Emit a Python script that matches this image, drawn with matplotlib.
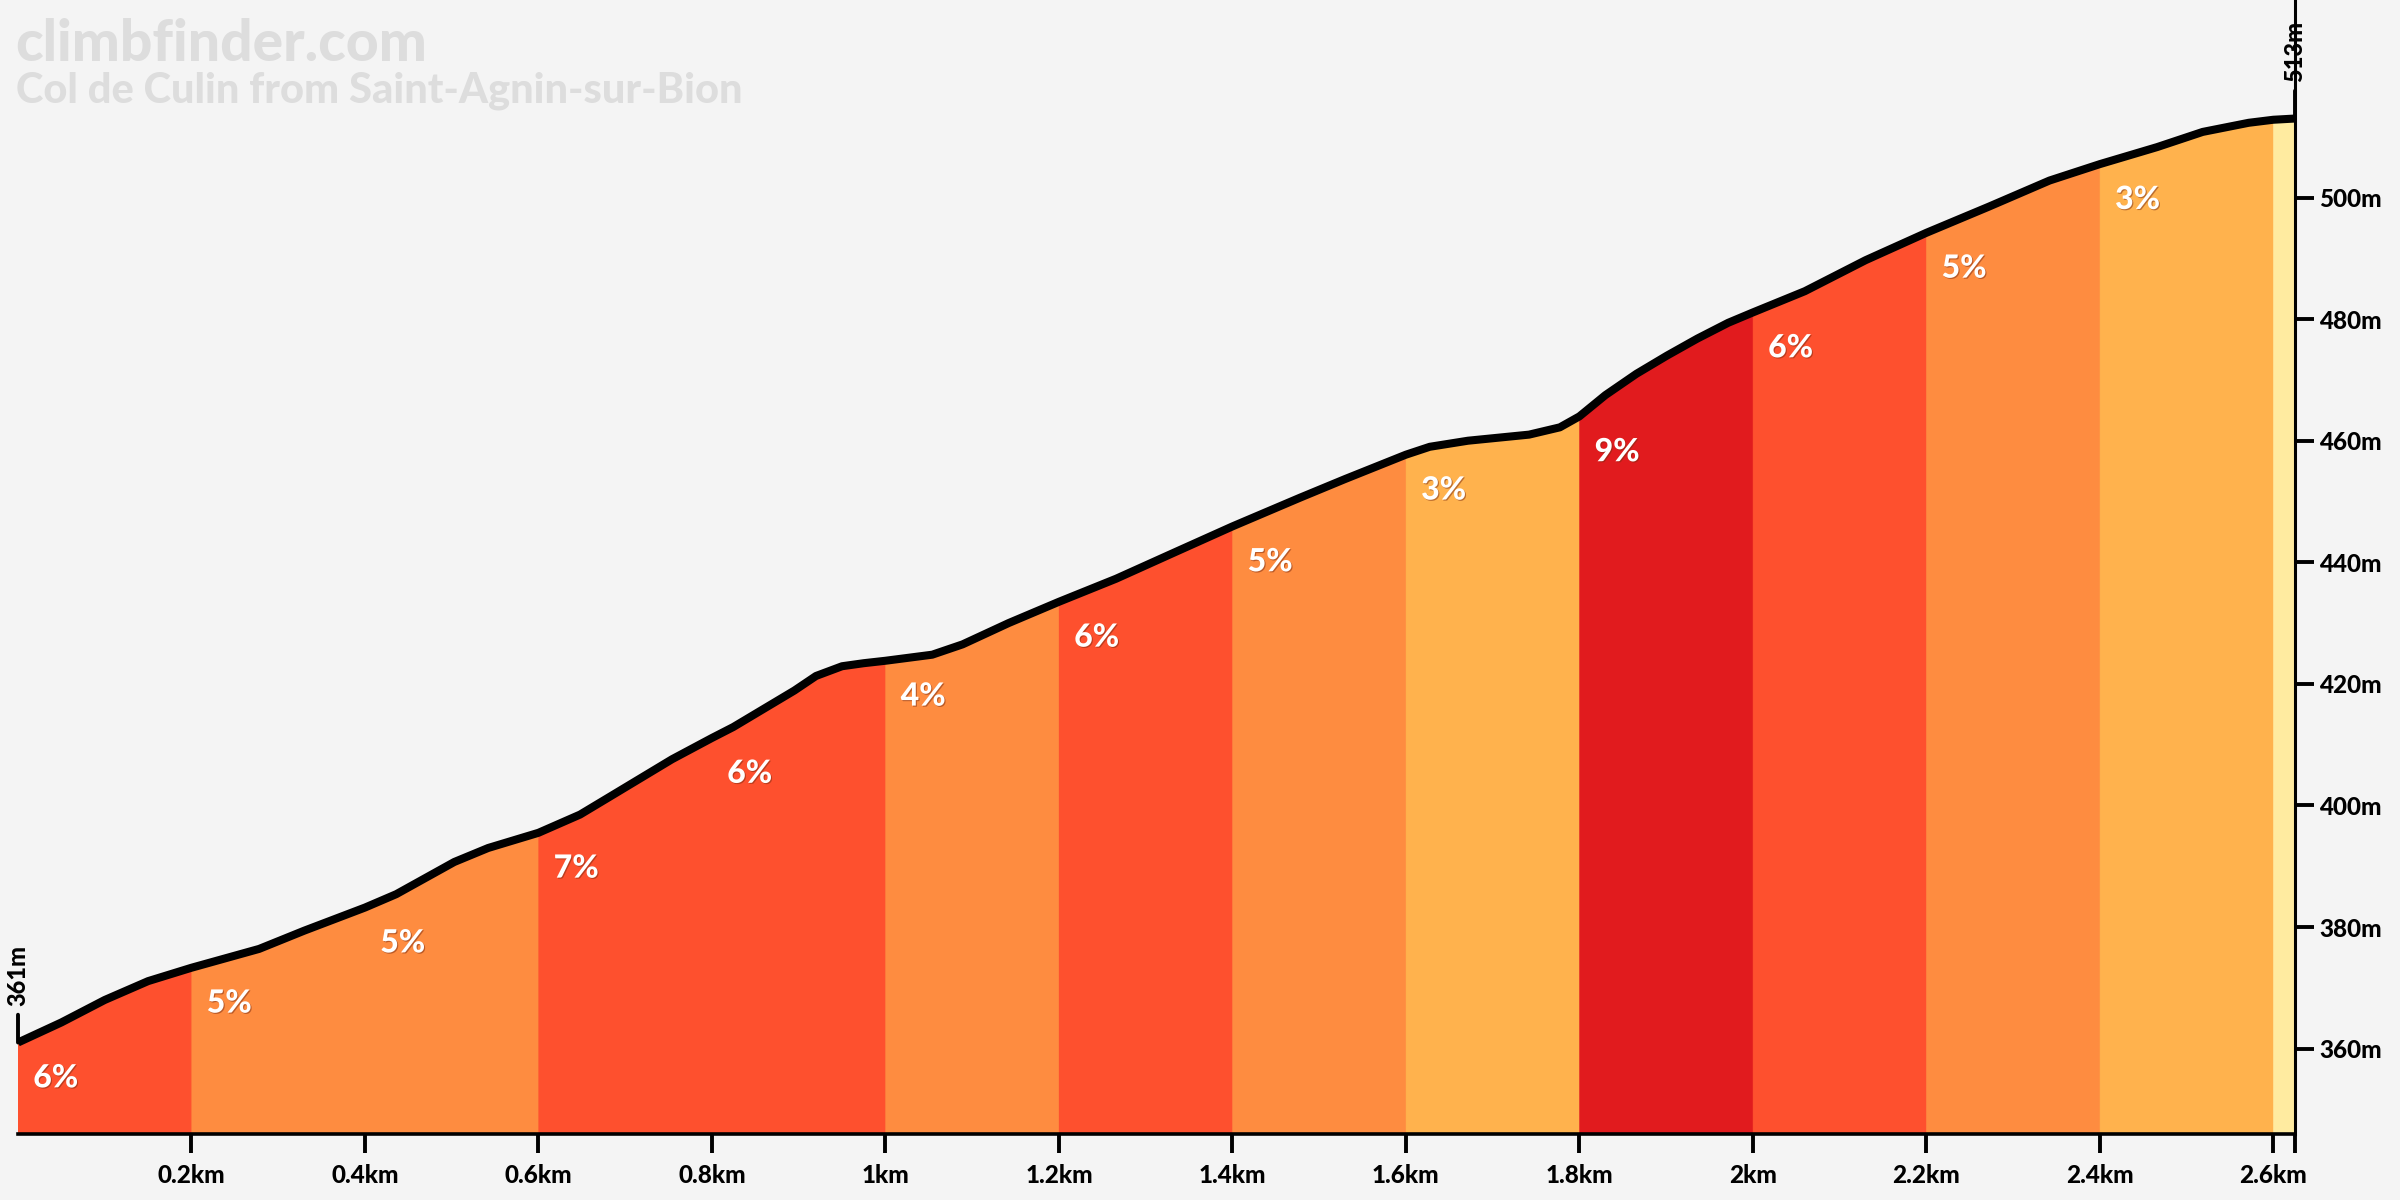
import matplotlib
matplotlib.use("Agg")
import matplotlib.pyplot as plt
import matplotlib.patheffects as pe
import numpy as np

plt.rcParams['font.family'] = ['Lato', 'DejaVu Sans']

# profile (km, m)
distance = [0.0, 0.05, 0.10, 0.15, 0.2, 0.278, 0.33, 0.4, 0.436, 0.503, 0.542,
            0.6, 0.648, 0.683, 0.754, 0.8, 0.8246, 0.895, 0.92, 0.95, 0.975,
            1.0, 1.054, 1.089, 1.142, 1.2, 1.266, 1.336, 1.4, 1.4775, 1.53,
            1.6, 1.6275, 1.6716, 1.742, 1.7775, 1.8, 1.83, 1.8657, 1.901,
            1.936, 1.9716, 2.0, 2.06, 2.13, 2.2, 2.272, 2.342, 2.4, 2.466,
            2.5186, 2.5716, 2.6, 2.625]
elevation = [361.0, 364.3, 368.0, 371.1, 373.3, 376.4, 379.4, 383.2, 385.4,
             390.7, 393.0, 395.5, 398.5, 401.5, 407.6, 411.1, 412.9, 418.9,
             421.3, 422.9, 423.4, 423.8, 424.8, 426.5, 430.0, 433.5, 437.3,
             441.8, 445.9, 450.6, 453.7, 457.7, 459.0, 460.0, 461.0, 462.2,
             464.0, 467.5, 471.0, 474.0, 476.8, 479.4, 481.1, 484.6, 489.7,
             494.2, 498.5, 502.8, 505.5, 508.3, 510.8, 512.3, 512.8, 513.0]

seg_edges = [0.0, 0.2, 0.4, 0.6, 0.8, 1.0, 1.2, 1.4, 1.6, 1.8, 2.0, 2.2, 2.4, 2.6, 2.625]
seg_grade = [6, 5, 5, 7, 6, 4, 6, 5, 3, 9, 6, 5, 3, 1]

x_ticks = [0.2, 0.4, 0.6, 0.8, 1.0, 1.2, 1.4, 1.6, 1.8, 2.0, 2.2, 2.4, 2.6]
x_labels = ['0.2km', '0.4km', '0.6km', '0.8km', '1km', '1.2km', '1.4km',
            '1.6km', '1.8km', '2km', '2.2km', '2.4km', '2.6km']
y_ticks = [360, 380, 400, 420, 440, 460, 480, 500]
y_labels = ['360m', '380m', '400m', '420m', '440m', '460m', '480m', '500m']

title = 'climbfinder.com'
subtitle = 'Col de Culin from Saint-Agnin-sur-Bion'


def grade_color(g):
    if g >= 8:
        return '#e11b1e'
    if g >= 6:
        return '#fe502e'
    if g >= 4:
        return '#fe8c40'
    if g >= 2:
        return '#ffb24d'
    return '#ffeba0'


bg = '#f4f4f4'
fig = plt.figure(figsize=(24, 12), dpi=100, facecolor=bg)
ax = fig.add_axes([0.0075, 0.055, 0.94875, 0.945])
ax.set_facecolor(bg)

d = np.array(distance)
e = np.array(elevation)
ymin = 345.95

for i, g in enumerate(seg_grade):
    a, b = seg_edges[i], seg_edges[i + 1]
    m = (d >= a - 1e-9) & (d <= b + 1e-9)
    c = grade_color(g)
    ax.fill_between(d[m], ymin, e[m], facecolor=c, edgecolor=c, lw=0.8)
    if g >= 2:
        ax.annotate(f'{g}%', xy=(a, e[m][0]), xytext=(11, -15),
                    textcoords='offset points', ha='left', va='top',
                    fontsize=23, fontweight='black', color='white',
                    path_effects=[pe.withSimplePatchShadow(offset=(0.8, -0.8),
                                                          shadow_rgbFace='#7a2a10',
                                                          alpha=0.5)])

ax.plot(d, e, color='black', lw=5.8, solid_capstyle='butt',
        solid_joinstyle='round', zorder=5)

# start / end markers
for xx, yy in [(d[0], e[0]), (d[-1], e[-1])]:
    ax.annotate('', xy=(xx, yy), xytext=(0, 20), textcoords='offset points',
                arrowprops=dict(arrowstyle='-', lw=2.8, color='black',
                                shrinkA=0, shrinkB=0))
    ax.annotate(f'{yy:.0f}m', xy=(xx, yy), xytext=(0, 26),
                textcoords='offset points', rotation=90, ha='center',
                va='bottom', fontsize=17, fontweight='black', color='black')

ax.set_xlim(0, 2.625)
ax.set_ylim(ymin, 532.5)

ax.set_xticks(x_ticks + [2.625])
ax.set_xticklabels(x_labels + [''])
ax.yaxis.tick_right()
ax.set_yticks(y_ticks)
ax.set_yticklabels(y_labels)

ax.tick_params(axis='x', direction='out', length=13.5, width=2.8, pad=8,
               labelsize=17.5, colors='black')
ax.tick_params(axis='y', direction='out', length=13.5, width=2.8, pad=4,
               labelsize=17.5, colors='black')
for lab in ax.get_xticklabels() + ax.get_yticklabels():
    lab.set_fontweight('black')

for s in ['left', 'top']:
    ax.spines[s].set_visible(False)
ax.spines['bottom'].set_linewidth(2.6)
ax.spines['right'].set_linewidth(2.2)

fig.text(0.0065, 0.985, title, ha='left', va='top', fontsize=41,
         fontweight='black', color='#dddddd')
fig.text(0.0065, 0.94, subtitle, ha='left', va='top', fontsize=30,
         fontweight='black', color='#dddddd')

fig.savefig('out.png', dpi=100, facecolor=bg)
